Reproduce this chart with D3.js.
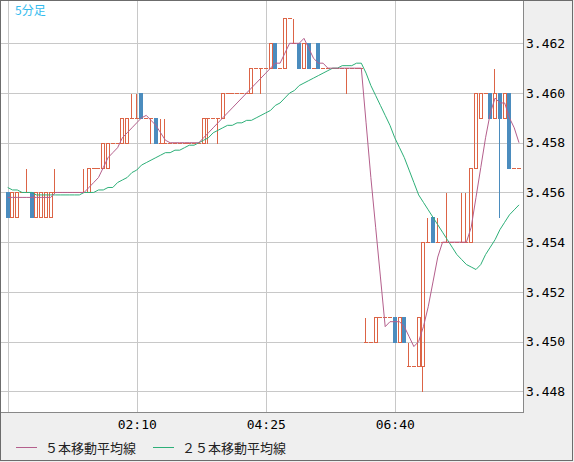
<!DOCTYPE html>
<html>
<head>
<meta charset="utf-8">
<script src="https://cdn.jsdelivr.net/npm/d3@7"></script>
<style>
  html, body { margin: 0; padding: 0; background: #fff; }
  svg { display: block; }
  .axis text { font-family: "DejaVu Sans Mono", monospace; font-size: 13px; fill: #000; }
</style>
</head>
<body>
<svg id="chart" width="574" height="462"></svg>
<script>
// 5 minute bars, starting at 23:55
var times = [];
for (var i = 0; i < 108; i++) {
  var m = (23 * 60 + 55 + 5 * i) % 1440;
  times.push(d3.format("02")(Math.floor(m / 60)) + ":" + d3.format("02")(m % 60));
}

var open = [
  3.456,3.455,3.455,3.456,3.456,3.456,3.455,3.455,3.455,3.455,
  3.456,3.456,3.456,3.456,3.456,3.456,3.456,3.456,3.457,3.457,
  3.457,3.457,3.458,3.458,3.458,3.458,3.459,3.459,3.460,3.459,
  3.459,3.459,3.458,3.458,3.458,3.458,3.458,3.458,3.458,3.458,
  3.458,3.458,3.459,3.459,3.459,3.459,3.460,3.460,3.460,3.460,
  3.460,3.460,3.461,3.461,3.461,3.461,3.462,3.461,3.461,3.463,
  3.462,3.462,3.461,3.462,3.461,3.462,3.461,3.461,3.461,3.461,
  3.461,3.461,3.461,3.461,3.461,3.450,3.450,3.450,3.451,3.451,
  3.451,3.451,3.450,3.451,3.449,3.449,3.449,3.449,3.454,3.455,
  3.454,3.454,3.454,3.454,3.454,3.454,3.454,3.454,3.457,3.459,
  3.460,3.460,3.459,3.460,3.459,3.460,3.457,3.457
];
var high = [
  3.456,3.456,3.456,3.456,3.457,3.456,3.456,3.456,3.456,3.456,
  3.457,3.456,3.456,3.456,3.456,3.456,3.457,3.457,3.457,3.457,
  3.458,3.458,3.458,3.458,3.459,3.459,3.460,3.460,3.460,3.459,
  3.459,3.459,3.459,3.459,3.458,3.458,3.458,3.458,3.458,3.458,
  3.458,3.459,3.459,3.459,3.459,3.460,3.460,3.460,3.460,3.460,
  3.460,3.461,3.461,3.461,3.461,3.462,3.462,3.461,3.463,3.463,
  3.463,3.462,3.462,3.462,3.461,3.462,3.461,3.461,3.461,3.461,
  3.461,3.461,3.461,3.461,3.461,3.451,3.450,3.451,3.451,3.451,
  3.451,3.451,3.451,3.451,3.450,3.449,3.451,3.454,3.455,3.455,
  3.455,3.454,3.456,3.454,3.454,3.456,3.456,3.457,3.460,3.460,
  3.460,3.460,3.461,3.460,3.460,3.460,3.457,3.457
];
var low = [
  3.455,3.455,3.455,3.456,3.456,3.455,3.455,3.455,3.455,3.455,
  3.456,3.456,3.456,3.456,3.456,3.456,3.456,3.456,3.457,3.457,
  3.457,3.457,3.458,3.458,3.458,3.458,3.459,3.459,3.459,3.459,
  3.458,3.458,3.458,3.458,3.458,3.458,3.458,3.458,3.458,3.458,
  3.458,3.458,3.458,3.459,3.458,3.459,3.460,3.460,3.460,3.460,
  3.460,3.460,3.461,3.460,3.461,3.461,3.461,3.461,3.461,3.463,
  3.462,3.461,3.461,3.461,3.461,3.461,3.461,3.461,3.461,3.461,
  3.461,3.460,3.461,3.461,3.461,3.450,3.450,3.450,3.451,3.451,
  3.451,3.450,3.450,3.450,3.449,3.449,3.449,3.448,3.454,3.454,
  3.454,3.454,3.454,3.454,3.454,3.454,3.454,3.454,3.457,3.459,
  3.460,3.459,3.459,3.455,3.459,3.457,3.457,3.457
];
var close = [
  3.455,3.456,3.456,3.456,3.456,3.455,3.456,3.456,3.456,3.456,
  3.456,3.456,3.456,3.456,3.456,3.456,3.456,3.457,3.457,3.457,
  3.458,3.458,3.458,3.458,3.459,3.459,3.459,3.459,3.459,3.459,
  3.459,3.458,3.458,3.458,3.458,3.458,3.458,3.458,3.458,3.458,
  3.458,3.459,3.459,3.459,3.459,3.460,3.460,3.460,3.460,3.460,
  3.460,3.461,3.461,3.461,3.461,3.462,3.461,3.461,3.463,3.463,
  3.462,3.461,3.462,3.461,3.461,3.461,3.461,3.461,3.461,3.461,
  3.461,3.461,3.461,3.461,3.461,3.450,3.450,3.451,3.451,3.451,
  3.451,3.450,3.451,3.450,3.449,3.449,3.451,3.454,3.454,3.454,
  3.454,3.454,3.454,3.454,3.454,3.454,3.454,3.457,3.460,3.460,
  3.460,3.459,3.460,3.459,3.460,3.457,3.457,3.457
];

// moving averages
var ma5 = [
  3.4558,3.4558,3.4558,3.4558,3.4558,3.4558,3.4558,3.4558,3.4558,3.4558,
  3.4560,3.4560,3.4560,3.4560,3.4560,3.4560,3.4560,3.4562,3.4564,3.4566,
  3.4570,3.4574,3.4576,3.4578,3.4582,3.4584,3.4586,3.4588,3.4590,3.4591,
  3.4589,3.4587,3.4584,3.4581,3.4580,3.4580,3.4580,3.4580,3.4580,3.4580,
  3.4580,3.4582,3.4584,3.4586,3.4588,3.4590,3.4592,3.4594,3.4596,3.4598,
  3.4600,3.4602,3.4604,3.4606,3.4608,3.4610,3.4612,3.4612,3.4616,3.4620,
  3.4620,3.4620,3.4622,3.4618,3.4614,3.4612,3.4612,3.4610,3.4610,3.4610,
  3.4610,3.4610,3.4610,3.4610,3.4610,3.4588,3.4566,3.4546,3.4526,3.4506,
  3.4508,3.4508,3.4508,3.4506,3.4502,3.4498,3.4500,3.4506,3.4514,3.4524,
  3.4534,3.4540,3.4540,3.4540,3.4540,3.4540,3.4540,3.4546,3.4558,3.4570,
  3.4582,3.4592,3.4598,3.4596,3.4596,3.4590,3.4586,3.4580
];
var ma25 = [
  3.4562,3.4561,3.4561,3.4560,3.4560,3.4560,3.4559,3.4559,3.4559,3.4559,
  3.4559,3.4559,3.4559,3.4559,3.4559,3.4559,3.4560,3.4560,3.4560,3.4561,
  3.4561,3.4562,3.4562,3.4564,3.4565,3.4566,3.4568,3.4569,3.4571,3.4572,
  3.4573,3.4574,3.4575,3.4576,3.4576,3.4577,3.4577,3.4578,3.4579,3.4579,
  3.4580,3.4581,3.4582,3.4584,3.4585,3.4586,3.4587,3.4587,3.4588,3.4588,
  3.4589,3.4589,3.4590,3.4591,3.4592,3.4593,3.4595,3.4596,3.4598,3.4600,
  3.4601,3.4603,3.4604,3.4605,3.4606,3.4607,3.4608,3.4609,3.4610,3.4610,
  3.4611,3.4611,3.4611,3.4612,3.4612,3.4608,3.4603,3.4599,3.4595,3.4591,
  3.4587,3.4582,3.4578,3.4574,3.4569,3.4564,3.4559,3.4556,3.4553,3.4550,
  3.4547,3.4544,3.4541,3.4538,3.4535,3.4533,3.4531,3.4530,3.4529,3.4531,
  3.4535,3.4538,3.4541,3.4545,3.4548,3.4551,3.4553,3.4555
];

var yTicks = [3.448, 3.450, 3.452, 3.454, 3.456, 3.458, 3.460, 3.462];
var gridTimes = ["23:55", "02:10", "04:25", "06:40"];
var timeLabels = ["02:10", "04:25", "06:40"];

var upColor = "#dc6446", downColor = "#4b8cbe";
var ma5Color = "#b45f8c", ma25Color = "#2daf78";

var plotRight = 523, plotBottom = 412;

var svg = d3.select("#chart");

// frame + backgrounds
svg.append("rect").attr("width", 574).attr("height", 462).attr("fill", "#efefef");
svg.append("rect").attr("x", 1).attr("y", 1)
  .attr("width", plotRight - 1).attr("height", plotBottom - 1).attr("fill", "#fff");

var x = d3.scalePoint().domain(times).range([7.7, 519]);
var y = d3.scaleLinear().domain([3.448, 3.462]).range([391.3, 43.3]);
var py = function(p) { return Math.round(y(p)) + 0.5; };

//gridlines
var grid = svg.append("g").attr("shape-rendering", "crispEdges").attr("stroke", "#c8c8c8");
grid.selectAll(".hg").data(yTicks).enter().append("line")
  .attr("x1", 1).attr("x2", plotRight).attr("y1", py).attr("y2", py);
grid.selectAll(".vg").data(gridTimes).enter().append("line")
  .attr("x1", function(d) { return Math.round(x(d)) + 0.5; })
  .attr("x2", function(d) { return Math.round(x(d)) + 0.5; })
  .attr("y1", 1).attr("y2", plotBottom);

svg.append("clipPath").attr("id", "plotClip").append("rect")
  .attr("x", 1).attr("y", 1).attr("width", plotRight - 1).attr("height", plotBottom - 1);

var plot = svg.append("g").attr("clip-path", "url(#plotClip)");

// candles
var candles = plot.append("g").attr("shape-rendering", "crispEdges");
times.forEach(function(t, i) {
  var cx = Math.round(x(t));
  var o = open[i], h = high[i], l = low[i], c = close[i];
  var col = c < o ? downColor : upColor;
  var g = candles.append("g");
  if (c > o) {
    if (h > c) g.append("line").attr("x1", cx - 0.5).attr("x2", cx - 0.5).attr("y1", py(h)).attr("y2", py(c)).attr("stroke", col);
    if (l < o) g.append("line").attr("x1", cx - 0.5).attr("x2", cx - 0.5).attr("y1", py(o)).attr("y2", py(l)).attr("stroke", col);
    g.append("rect").attr("x", cx - 1.5).attr("y", py(c)).attr("width", 3)
      .attr("height", py(o) - py(c)).attr("fill", "none").attr("stroke", col);
  } else if (c < o) {
    if (h > l) g.append("line").attr("x1", cx - 0.5).attr("x2", cx - 0.5).attr("y1", py(h)).attr("y2", py(l)).attr("stroke", col);
    g.append("rect").attr("x", cx - 2).attr("y", py(o) - 0.5).attr("width", 4)
      .attr("height", py(c) - py(o) + 1).attr("fill", col);
  } else {
    if (h > l) g.append("line").attr("x1", cx - 0.5).attr("x2", cx - 0.5).attr("y1", py(h)).attr("y2", py(l)).attr("stroke", col);
    g.append("line").attr("x1", cx - 2).attr("x2", cx + 2).attr("y1", py(c)).attr("y2", py(c)).attr("stroke", col);
  }
});

// moving averages
var line = function(vals) {
  return d3.line().x(function(d, i) { return x(times[i]); }).y(function(d) { return y(d); })(vals);
};
plot.append("path").attr("d", line(ma25)).attr("fill", "none").attr("stroke", ma25Color).attr("stroke-width", 1);
plot.append("path").attr("d", line(ma5)).attr("fill", "none").attr("stroke", ma5Color).attr("stroke-width", 1);

// plot border (right + bottom)
var border = svg.append("g").attr("shape-rendering", "crispEdges").attr("stroke", "#888");
border.append("line").attr("x1", plotRight + 0.5).attr("x2", plotRight + 0.5).attr("y1", 0).attr("y2", plotBottom + 1);
border.append("line").attr("x1", 0).attr("x2", plotRight + 1).attr("y1", plotBottom + 0.5).attr("y2", plotBottom + 0.5);

// axes
var yAxis = svg.append("g").attr("class", "axis")
  .attr("transform", "translate(" + plotRight + ",0)")
  .call(d3.axisRight(y).tickValues(yTicks).tickSize(0).tickPadding(3).tickFormat(d3.format(".3f")));
yAxis.select(".domain").remove();

var xAxis = svg.append("g").attr("class", "axis")
  .attr("transform", "translate(0," + plotBottom + ")")
  .call(d3.axisBottom(x).tickValues(timeLabels).tickSize(0).tickPadding(8));
xAxis.select(".domain").remove();

// outer frame
svg.append("rect").attr("x", 0.5).attr("y", 0.5).attr("width", 572).attr("height", 460)
  .attr("fill", "none").attr("stroke", "#6c6c6c").attr("shape-rendering", "crispEdges");

// period label
svg.append("text").attr("x", 15).attr("y", 14.5)
  .style("font-family", "'Noto Sans CJK JP', sans-serif").style("font-size", "12px")
  .attr("fill", "#33bbee").text("5分足");

// legend
var legendItems = [
  {label: "５本移動平均線", color: ma5Color, x: 16},
  {label: "２５本移動平均線", color: ma25Color, x: 153}
];
var legend = svg.selectAll(".legend").data(legendItems).enter().append("g");
legend.append("line")
  .attr("x1", function(d) { return d.x; }).attr("x2", function(d) { return d.x + 21; })
  .attr("y1", 447.5).attr("y2", 447.5).attr("stroke", function(d) { return d.color; })
  .attr("shape-rendering", "crispEdges");
legend.append("text")
  .attr("x", function(d) { return d.x + 29; }).attr("y", 452.5)
  .style("font-family", "'Noto Sans CJK JP', sans-serif").style("font-size", "13px")
  .attr("fill", "#222").text(function(d) { return d.label; });
</script>
</body>
</html>
